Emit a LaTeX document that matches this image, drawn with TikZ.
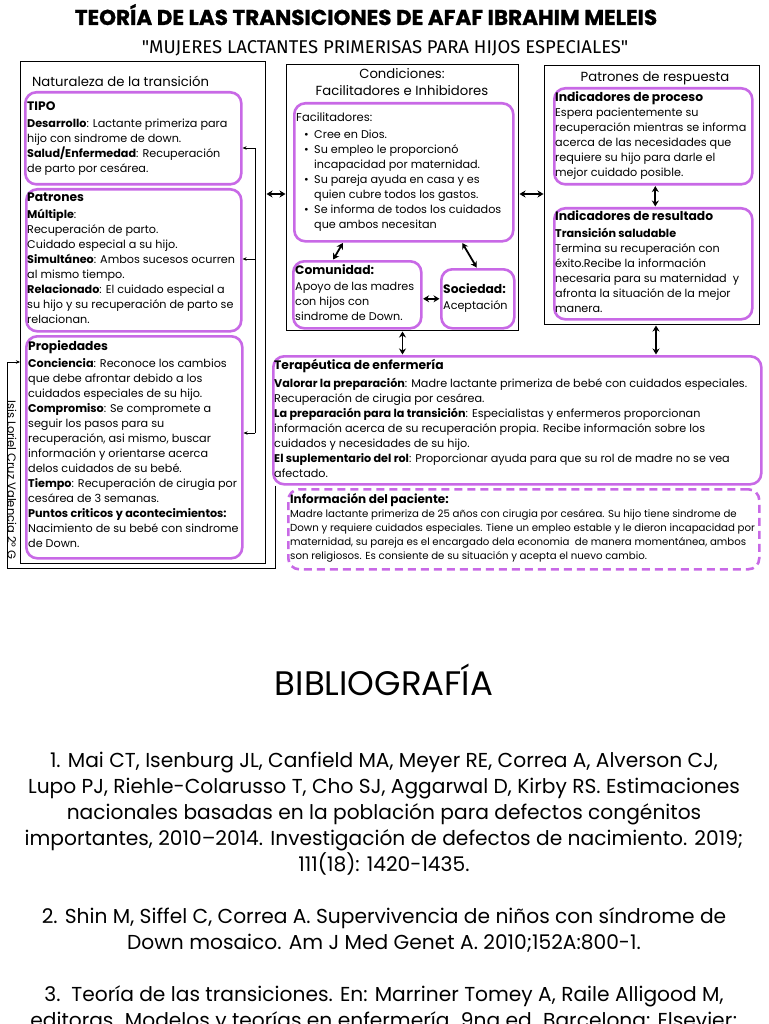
\documentclass[tikz,border=0pt]{standalone}
\usepackage{fontspec}
\setmainfont{Poppins}
\newfontfamily\subfont{Fira Sans}
\newfontfamily\titlefont{Poppins}[BoldFeatures={FakeBold=1}]
\usetikzlibrary{arrows.meta}
\definecolor{boxpurple}{RGB}{200,105,230}
\tikzset{
  pbox/.style={draw=boxpurple, line width=2.6pt, rounded corners=11pt, inner sep=0pt, anchor=north west},
  dbox/.style={pbox, dash pattern=on 8pt off 5pt},
  framebox/.style={draw=black, line width=1pt, inner sep=0pt, anchor=north west},
  body/.style={anchor=north west, inner sep=0pt, align=left, font=\fontsize{11.2}{15}\selectfont},
  small/.style={anchor=north west, inner sep=0pt, align=left, font=\fontsize{10.2}{13.7}\selectfont},
  ftitle/.style={inner sep=0pt, font=\fontsize{13.2}{15}\selectfont},
  darr/.style={line width=1.8pt, {Stealth[length=6pt,width=7pt]}-{Stealth[length=6pt,width=7pt]}, shorten <=0.5pt, shorten >=0.5pt},
  thinarr/.style={line width=0.8pt, -{Stealth[length=4pt,width=3.5pt]}},
}
\newcommand{\hd}[1]{{\fontsize{12.3}{15}\selectfont\bfseries #1}}
\newcommand{\tp}{\rule{0pt}{13pt}}
\newcommand{\bul}{\makebox[18pt][l]{\hspace*{8pt}\textbullet}}
\begin{document}
\begin{tikzpicture}[x=1pt,y=-1pt]
\useasboundingbox[fill=white] (0,0) rectangle (768,1024);

% titles
\node[inner sep=0pt, anchor=base, font=\titlefont\bfseries\fontsize{21.5}{21.5}\selectfont] (title) at (366,25) {TEORÍA DE LAS TRANSICIONES DE AFAF IBRAHIM MELEIS};
\node[inner sep=0pt, anchor=base, font=\subfont\fontsize{18.5}{18.5}\selectfont] (subtitle) at (385,54) {"MUJERES LACTANTES PRIMERISAS PARA HIJOS ESPECIALES"};

% frames
\node[framebox, minimum width=245pt, minimum height=502pt] (nat) at (20,61) {};
\node[framebox, minimum width=232pt, minimum height=266pt] (cond) at (286,64) {};
\node[framebox, minimum width=215pt, minimum height=259pt] (resp) at (544,65) {};

\node[ftitle, anchor=base west] (natt) at (32,86.5) {Naturaleza de la transición};
\node[ftitle, anchor=base] (condt1) at (402,78.5) {Condiciones:};
\node[ftitle, anchor=base] (condt2) at (402,95.5) {Facilitadores e Inhibidores};
\node[ftitle, anchor=base] (respt) at (655,81.5) {Patrones de respuesta};

% left boxes
\node[pbox, minimum width=216pt, minimum height=92pt] (tipo) at (24,91) {};
\node[pbox, minimum width=215pt, minimum height=142pt] (patr) at (25,188) {};
\node[pbox, minimum width=216pt, minimum height=222pt] (prop) at (25,335) {};

\node[body] (tipot) at (27,97.3) {\tp\hd{TIPO}\\[1.7pt]
\textbf{Desarrollo}: Lactante primeriza para\\
hijo con sindrome de down.\\
\textbf{Salud/Enfermedad}: Recuperación\\
de parto por cesárea.};

\node[body] (patrt) at (27,188.3) {\tp\hd{Patrones}\\[1.7pt]
\textbf{Múltiple}:\\
Recuperación de parto.\\
Cuidado especial a su hijo.\\
\textbf{Simultáneo}: Ambos sucesos ocurren\\
al mismo tiempo.\\
\textbf{Relacionado}: El cuidado especial a\\
su hijo y su recuperación de parto se\\
relacionan.};

\node[body] (propt) at (28,337.3) {\tp\hd{Propiedades}\\[1.7pt]
\textbf{Conciencia}: Reconoce los cambios\\
que debe afrontar debido a los\\
cuidados especiales de su hijo.\\
\textbf{Compromiso}: Se compromete a\\
seguir los pasos para su\\
recuperación, asi mismo, buscar\\
información y orientarse acerca\\
delos cuidados de su bebé.\\
\textbf{Tiempo}: Recuperación de cirugia por\\
cesárea de 3 semanas.\\
\textbf{Puntos criticos y acontecimientos:}\\
Nacimiento de su bebé con sindrome\\
de Down.};

% middle boxes
\node[pbox, minimum width=219pt, minimum height=138pt] (facil) at (293,102) {};
\node[pbox, minimum width=128pt, minimum height=67pt] (comu) at (292,260) {};
\node[pbox, minimum width=73pt, minimum height=59pt] (soci) at (440,268) {};

\node[body] (facilt) at (296,108) {\tp{\fontsize{11.5}{15}\selectfont Facilitadores:}\\[2pt]
\bul Cree en Dios.\\
\bul Su empleo le proporcionó\\
\hspace*{18pt}incapacidad por maternidad.\\
\bul Su pareja ayuda en casa y es\\
\hspace*{18pt}quien cubre todos los gastos.\\
\bul Se informa de todos los cuidados\\
\hspace*{18pt}que ambos necesitan};

\node[body] (comut) at (295,261.3) {\tp\hd{Comunidad:}\\[0.7pt]
Apoyo de las madres\\
con hijos con\\
sindrome de Down.};

\node[body] (socit) at (443,280.3) {\tp\hd{Sociedad:}\\[0.7pt]
Aceptación};

% right boxes
\node[pbox, minimum width=198pt, minimum height=96pt] (proc) at (553,87) {};
\node[pbox, minimum width=198pt, minimum height=111pt] (resu) at (553,207) {};

\node[body] (proct) at (555,88.3) {\tp\hd{Indicadores de proceso}\\
Espera pacientemente su\\
recuperación mientras se informa\\
acerca de las necesidades que\\
requiere su hijo para darle el\\
mejor cuidado posible.};

\node[body] (resut) at (555,207.3) {\tp\hd{Indicadores de resultado}\\[1.7pt]
\textbf{Transición saludable}\\
Termina su recuperación con\\
éxito.Recibe la información\\
necesaria para su maternidad\ \ y\\
afronta la situación de la mejor\\
manera.};

% bottom boxes
\node[pbox, minimum width=488pt, minimum height=128pt] (tera) at (272,355) {};
\node[dbox, minimum width=471pt, minimum height=80pt] (info) at (287,488) {};

\node[body] (terat) at (274,356.3) {\tp\hd{Terapéutica de enfermería}\\[2.7pt]
\textbf{Valorar la preparación}: Madre lactante primeriza de bebé con cuidados especiales.\\
Recuperación de cirugia por cesárea.\\
\textbf{La preparación para la transición}: Especialistas y enfermeros proporcionan\\
información acerca de su recuperación propia. Recibe información sobre los\\
cuidados y necesidades de su hijo.\\
\textbf{El suplementario del rol}: Proporcionar ayuda para que su rol de madre no se vea\\
afectado.};

\node[small] (infot) at (290,490.2) {\tp{\fontsize{12}{15}\selectfont\bfseries Información del paciente:}\\[0.8pt]
Madre lactante primeriza de 25 años con cirugia por cesárea. Su hijo tiene sindrome de\\
Down y requiere cuidados especiales. Tiene un empleo estable y le dieron incapacidad por\\
maternidad, su pareja es el encargado dela economia\ \ de manera momentánea, ambos\\
son religiosos. Es consiente de su situación y acepta el nuevo cambio.};

% author, rotated
\node[inner sep=0pt, rotate=-90, font=\fontsize{11.5}{11.5}\selectfont] (author) at (12,480) {Isis Loriel Cruz Valencia 2° G};

% connectors
\coordinate (yl) at (0,194);
\draw[darr] (nat.east |- yl) -- (cond.west |- yl);
\draw[darr] (cond.east |- yl) -- (resp.west |- yl);
\draw[darr] ([xshift=50pt]facil.south west) -- ([xshift=41pt]comu.north west);
\draw[darr] ([xshift=169pt]facil.south west) -- ([xshift=37pt]soci.north west);
\draw[darr] (comu.east |- soci.west) -- (soci.west);
\draw[darr] ([xshift=2pt]proc.south) -- ([xshift=2pt]resu.north);
\draw[darr] (cond.south) -- (cond.south |- tera.north);
\draw[darr] ([xshift=4pt]resp.south) -- ([xshift=4pt]resp.south |- tera.north);

% left bracket
\coordinate (b1) at (255,148);
\coordinate (b2) at (255,259);
\coordinate (b3) at (255,433);
\draw[line width=0.8pt] (b1) -- (b3);
\draw[thinarr] (b1) -- (b1 -| tipo.east);
\draw[thinarr] (b2) -- (b2 -| patr.east);
\draw[thinarr] (b3) -- (b3 -| prop.east);

% outer bracket
\coordinate (ob) at (7,362);
\coordinate (oc) at (7,568);
\draw[thinarr] ([xshift=3pt]tera.south west) |- (oc) -- (ob) -- (ob -| nat.west);

% bibliography
\node[inner sep=0pt, anchor=base, font=\fontsize{34}{34}\selectfont] (bibt) at (384,695) {BIBLIOGRAFÍA};
\node[inner sep=0pt, anchor=north, align=center, font=\fontsize{20.2}{26}\selectfont] (bib) at (384,745.5) {\rule{0pt}{22pt}1. Mai CT, Isenburg JL, Canfield MA, Meyer RE, Correa A, Alverson CJ,\\
Lupo PJ, Riehle-Colarusso T, Cho SJ, Aggarwal D, Kirby RS. Estimaciones\\
nacionales basadas en la población para defectos congénitos\\
importantes, 2010–2014. Investigación de defectos de nacimiento. 2019;\\
111(18): 1420-1435.\\[26pt]
2. Shin M, Siffel C, Correa A. Supervivencia de niños con síndrome de\\
Down mosaico. Am J Med Genet A. 2010;152A:800-1.\\[26pt]
3.\ \ Teoría de las transiciones. En: Marriner Tomey A, Raile Alligood M,\\
editoras. Modelos y teorías en enfermería. 9na ed. Barcelona: Elsevier;};
\end{tikzpicture}
\end{document}
